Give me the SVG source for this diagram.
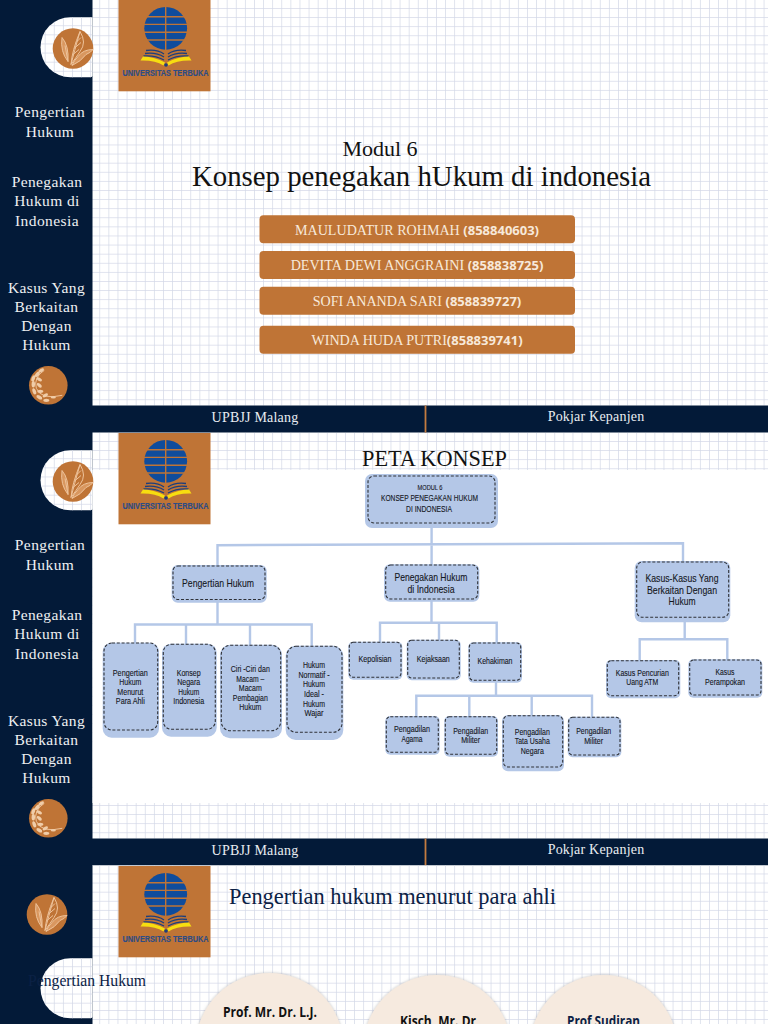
<svg xmlns="http://www.w3.org/2000/svg" width="768" height="1024" viewBox="0 0 768 1024">
<style>
.nv{font-family:"Liberation Serif","Times New Roman",serif;font-size:15.5px;letter-spacing:.4px;fill:#eef0f2;text-anchor:middle}
.ft{font-family:"Liberation Serif","Times New Roman",serif;font-size:14px;letter-spacing:.2px;fill:#e9edf2;text-anchor:middle}
.pl{font-family:"Liberation Serif","Times New Roman",serif;font-size:14.1px;fill:#f7e9da;text-anchor:middle}
.pn{font-family:"Open Sans","Liberation Sans",sans-serif;font-size:13px;font-weight:700}
.ut{font-family:"Liberation Sans",Arial,sans-serif;font-size:8.6px;font-weight:700;fill:#2c4c86;stroke:#2c4c86;stroke-width:.15}
.o{fill:#b4c7e7}
.d{fill:none;stroke:#2f3238;stroke-width:1.1;stroke-dasharray:3 1.8}
.t{font-family:"Liberation Sans",Arial,sans-serif;fill:#15181e;text-anchor:middle;stroke:#15181e;stroke-width:.12}
.s7{font-size:7.6px}.s8{font-size:8.6px}.s10{font-size:11px}
.c{fill:none;stroke:#b4c7e7;stroke-width:2.4}
.hd{font-family:"Open Sans","Liberation Sans",sans-serif;font-size:13.5px;font-weight:700;text-anchor:middle}
</style>
<defs>
<pattern id="grid" patternUnits="userSpaceOnUse" width="9.1" height="9.1" x="99.3" y="8">
<path d="M0 0V9.1M0 0H9.1" fill="none" stroke="#d3d8e7" stroke-width="1.4"/>
</pattern>
<filter id="sh" x="-10%" y="-10%" width="120%" height="120%"><feDropShadow dx="0" dy="0" stdDeviation="1.6" flood-color="#8a8a8a" flood-opacity=".55"/></filter>
<g id="frame">
<rect x="92" y="0" width="676" height="405.500" fill="#fff"/>
<rect x="92" y="0" width="676" height="405.500" fill="url(#grid)"/>
<rect x="0" y="0" width="92.500" height="433" fill="#031a38"/>
<rect x="92" y="405.500" width="676" height="27" fill="#031a38"/>
<rect x="424.600" y="405.500" width="1.800" height="27" fill="#c27b40"/>
</g>
<g id="logo">
<rect x="118.500" y="0" width="92" height="91.300" fill="#bf7436"/>
<circle cx="165.700" cy="28.300" r="21.400" fill="#0f4c9c"/>
<path d="M143 16.700H188M143 24.400H188M143 32.300H188M143 40H188M165.700 6V50" stroke="#bf7436" stroke-width="1.400" fill="none"/>
<path d="M146 50.500Q157 49 164 54M145 53.500Q156 52 164 57M143.500 56Q155 55 164 60M186 50.500Q175 49 168 54M187 53.500Q176 52 168 57M188.500 56Q177 55 168 60" stroke="#1c3f7d" stroke-width="1.300" fill="none"/>
<path d="M143 56.500L140.500 60.500Q155 60 163.500 65.500L165 62.500Q155 57 143 56.500Z" fill="#f7dd10"/>
<path d="M189 56.500L191.500 60.500Q177 60 168.500 65.500L167 62.500Q177 57 189 56.500Z" fill="#f7dd10"/>
<circle cx="166" cy="65" r="1.800" fill="#1c3f7d"/>
</g>
<g id="tab"><path d="M92.500 0H70.500A30 30 0 0 0 70.500 60H90.500Q92.500 60 92.500 58Z" fill="#fff"/><path d="M92.500 0H70.500A30 30 0 0 0 70.500 60H90.500Q92.500 60 92.500 58Z" fill="url(#grid)"/></g>
<g id="leaf">
<circle cx="0" cy="0" r="20.300" fill="#bf7436"/>
<g fill="none" stroke="#eec39b" stroke-width="1">
<path d="M-2 16Q-1 2 7 -17Q14 -6 7 3Q3 9 -2 16ZM-2 16Q1 4 7 -17M0 6L6 1M1 0L8 -6M3 -6L8 -11"/>
<path d="M-5 13Q-13 3 -11 -11Q-4 -3 -5 13M-8 -3L-5 13" fill="#d9975f"/>
<path d="M-1 17Q8 13 13 6Q18 4 20 1Q10 1 5 8Q1 12 -1 17" fill="#d9975f"/>
</g></g>
<g id="wreath">
<circle cx="0" cy="0" r="19.300" fill="#bf7436"/>
<path d="M-4 -15Q-15 -8 -12 3Q-7 15 14 10" fill="none" stroke="#eec39b" stroke-width="1"/>
<g fill="#f0cda9"><ellipse cx="-7" cy="-15" rx="3" ry="1.600" transform="rotate(-30 -7 -15)"/><ellipse cx="-11" cy="-11" rx="3.200" ry="1.700" transform="rotate(-50 -11 -11)"/><ellipse cx="-15" cy="-7" rx="3.200" ry="1.700" transform="rotate(-70 -15 -7)"/><ellipse cx="-9" cy="-6" rx="3" ry="1.600" transform="rotate(30 -9 -6)"/><ellipse cx="-15" cy="-1" rx="3.200" ry="1.700" transform="rotate(-90 -15 -1)"/><ellipse cx="-9" cy="0" rx="3" ry="1.600" transform="rotate(40 -9 0)"/><ellipse cx="-14" cy="6" rx="3.200" ry="1.700" transform="rotate(70 -14 6)"/><ellipse cx="-8" cy="6" rx="3" ry="1.600"/><ellipse cx="-9" cy="12" rx="3.200" ry="1.700" transform="rotate(30 -9 12)"/><ellipse cx="-3" cy="10" rx="3" ry="1.600" transform="rotate(-30 -3 10)"/><ellipse cx="-2" cy="15" rx="3" ry="1.600"/><ellipse cx="5" cy="12" rx="2.600" ry="1.300"/></g>
</g>
</defs>

<rect id="page" width="768" height="1024" fill="#fff"/>

<g id="slide1">
<use href="#frame"/>
<use href="#tab" y="17.300"/>
<use href="#logo"/>
<use href="#leaf" x="73" y="48.500"/>
<use href="#wreath" x="48.300" y="385.300"/>
<text class="ut" x="122.500" y="76" textLength="86" lengthAdjust="spacingAndGlyphs">UNIVERSITAS TERBUKA</text>
<g id="nav1">
<text class="nv" x="50" y="117">Pengertian</text><text class="nv" x="50" y="136.500">Hukum</text>
<text class="nv" x="47" y="187">Penegakan</text><text class="nv" x="47" y="206">Hukum di</text><text class="nv" x="47" y="225.700">Indonesia</text>
<text class="nv" x="46.500" y="292.700">Kasus Yang</text><text class="nv" x="46.500" y="311.700">Berkaitan</text><text class="nv" x="46.500" y="331">Dengan</text><text class="nv" x="46.500" y="350">Hukum</text>
</g>
<text x="380" y="156" font-family="Liberation Serif, serif" font-size="22" text-anchor="middle" fill="#111">Modul 6</text>
<text x="421.500" y="185.500" font-family="Liberation Serif, serif" font-size="28.800" text-anchor="middle" fill="#111">Konsep penegakan hUkum di indonesia</text>
<g id="pill1"><rect x="259.500" y="215.300" width="315.500" height="28" rx="4" fill="#bf7436"/><text class="pl" x="417" y="235">MAULUDATUR ROHMAH <tspan class="pn">(858840603)</tspan></text></g>
<g id="pill2"><rect x="259.500" y="251" width="315.500" height="28" rx="4" fill="#bf7436"/><text class="pl" x="417" y="270.300">DEVITA DEWI ANGGRAINI <tspan class="pn">(858838725)</tspan></text></g>
<g id="pill3"><rect x="259.500" y="286.700" width="315.500" height="28" rx="4" fill="#bf7436"/><text class="pl" x="417" y="305.700">SOFI ANANDA SARI <tspan class="pn">(858839727)</tspan></text></g>
<g id="pill4"><rect x="259.500" y="325.700" width="315.500" height="28" rx="4" fill="#bf7436"/><text class="pl" x="417" y="345">WINDA HUDA PUTRI<tspan class="pn">(858839741)</tspan></text></g>
<text class="ft" x="255" y="422">UPBJJ Malang</text><text class="ft" x="596" y="420.500">Pokjar Kepanjen</text>
</g>

<g id="slide2">
<use href="#frame" y="433"/>
<use href="#tab" y="450.300"/>
<rect x="92.500" y="470" width="675.500" height="333" fill="#fff"/>
<use href="#logo" y="433"/>
<use href="#leaf" x="73" y="481.500"/>
<use href="#wreath" x="48.300" y="818.300"/>
<text class="ut" x="122.500" y="509" textLength="86" lengthAdjust="spacingAndGlyphs">UNIVERSITAS TERBUKA</text>
<g id="nav2">
<text class="nv" x="50" y="550">Pengertian</text><text class="nv" x="50" y="569.500">Hukum</text>
<text class="nv" x="47" y="620">Penegakan</text><text class="nv" x="47" y="639">Hukum di</text><text class="nv" x="47" y="658.700">Indonesia</text>
<text class="nv" x="46.500" y="725.700">Kasus Yang</text><text class="nv" x="46.500" y="744.700">Berkaitan</text><text class="nv" x="46.500" y="764">Dengan</text><text class="nv" x="46.500" y="783">Hukum</text>
</g>
<text x="434.500" y="466" font-family="Liberation Serif, serif" font-size="22.300" text-anchor="middle" fill="#111">PETA KONSEP</text>
<text class="ft" x="255" y="855">UPBJJ Malang</text><text class="ft" x="596" y="853.500">Pokjar Kepanjen</text>

<g id="connectors">
<path class="c" d="M431.600 527V565M217.500 566V545.200L683 543.300V562"/>
<path class="c" d="M217.500 602V624.500M135 643V624.500H311.700V646M186 624.500V644.500M250 624.500V645.500"/>
<path class="c" d="M431.500 601V622.700M380 642V622.700H496.700V643M439 622.700V640.500"/>
<path class="c" d="M496 682V695.700M416.300 717V695.700H592V718M469.300 695.700V717M531.700 695.700V716"/>
<path class="c" d="M684.700 622V639.300M639.700 661V639.300H727.300V660"/>
</g>

<g id="n-root"><rect class="o" x="365" y="474" width="133" height="54" rx="7"/><rect class="d" x="368" y="476" width="127" height="47" rx="6"/><text class="t s7" x="430" y="489.700" textLength="25" lengthAdjust="spacingAndGlyphs">MODUL 6</text><text class="t s8" x="429.500" y="501" textLength="97" lengthAdjust="spacingAndGlyphs">KONSEP PENEGAKAN HUKUM</text><text class="t s8" x="429" y="511.500" textLength="46" lengthAdjust="spacingAndGlyphs">DI INDONESIA</text></g>
<g id="n-pengertian"><rect class="o" x="171.700" y="565" width="95" height="37.700" rx="6"/><rect class="d" x="173" y="566" width="92" height="33.500" rx="5"/><text class="t s10" x="218" y="587" textLength="72" lengthAdjust="spacingAndGlyphs">Pengertian Hukum</text></g>
<g id="n-penegakan"><rect class="o" x="384" y="564.300" width="95.300" height="37.400" rx="6"/><rect class="d" x="385.700" y="565" width="92" height="34" rx="5"/><text class="t s10" x="431" y="580.800" textLength="73" lengthAdjust="spacingAndGlyphs">Penegakan Hukum</text><text class="t s10" x="431" y="593" textLength="47" lengthAdjust="spacingAndGlyphs">di Indonesia</text></g>
<g id="n-kasus"><rect class="o" x="634.700" y="561" width="95.600" height="61.300" rx="7"/><rect class="d" x="636.700" y="562" width="92" height="55.300" rx="6"/><text class="t s10" x="682" y="581.500" textLength="73" lengthAdjust="spacingAndGlyphs">Kasus-Kasus Yang</text><text class="t s10" x="682" y="593.800" textLength="70" lengthAdjust="spacingAndGlyphs">Berkaitan Dengan</text><text class="t s10" x="682" y="605" textLength="27" lengthAdjust="spacingAndGlyphs">Hukum</text></g>

<g id="n-c1"><rect class="o" x="102.700" y="642.700" width="56.300" height="95" rx="9"/><rect class="d" x="104" y="643" width="53.700" height="87" rx="8"/><text class="t s8" x="130.300" y="675.800" textLength="35" lengthAdjust="spacingAndGlyphs">Pengertian</text><text class="t s8" x="130.300" y="685.300" textLength="22" lengthAdjust="spacingAndGlyphs">Hukum</text><text class="t s8" x="130.300" y="694.800" textLength="26" lengthAdjust="spacingAndGlyphs">Menurut</text><text class="t s8" x="130.300" y="704.300" textLength="29" lengthAdjust="spacingAndGlyphs">Para Ahli</text></g>
<g id="n-c2"><rect class="o" x="162" y="643.700" width="54.700" height="93" rx="9"/><rect class="d" x="163.300" y="644.300" width="52" height="85" rx="8"/><text class="t s8" x="188.700" y="675.800" textLength="24" lengthAdjust="spacingAndGlyphs">Konsep</text><text class="t s8" x="188.700" y="685.300" textLength="23" lengthAdjust="spacingAndGlyphs">Negara</text><text class="t s8" x="188.700" y="694.800" textLength="21" lengthAdjust="spacingAndGlyphs">Hukum</text><text class="t s8" x="188.700" y="704.300" textLength="31" lengthAdjust="spacingAndGlyphs">Indonesia</text></g>
<g id="n-c3"><rect class="o" x="220" y="644.700" width="62" height="93.600" rx="10"/><rect class="d" x="221.300" y="645.300" width="59.400" height="85.400" rx="9"/><text class="t s8" x="250.300" y="672.300" textLength="39" lengthAdjust="spacingAndGlyphs">Ciri -Ciri dan</text><text class="t s8" x="250.300" y="681.800" textLength="28" lengthAdjust="spacingAndGlyphs">Macam –</text><text class="t s8" x="250.300" y="691.300" textLength="23" lengthAdjust="spacingAndGlyphs">Macam</text><text class="t s8" x="250.300" y="700.800" textLength="35" lengthAdjust="spacingAndGlyphs">Pembagian</text><text class="t s8" x="250.300" y="710.300" textLength="22" lengthAdjust="spacingAndGlyphs">Hukum</text></g>
<g id="n-c4"><rect class="o" x="285.700" y="645.700" width="57.600" height="94.300" rx="10"/><rect class="d" x="287" y="646.300" width="55" height="86" rx="9"/><text class="t s8" x="314" y="668" textLength="22" lengthAdjust="spacingAndGlyphs">Hukum</text><text class="t s8" x="314" y="677.700" textLength="31" lengthAdjust="spacingAndGlyphs">Normatif -</text><text class="t s8" x="314" y="687.400" textLength="22" lengthAdjust="spacingAndGlyphs">Hukum</text><text class="t s8" x="314" y="697" textLength="20" lengthAdjust="spacingAndGlyphs">Ideal -</text><text class="t s8" x="314" y="706.700" textLength="22" lengthAdjust="spacingAndGlyphs">Hukum</text><text class="t s8" x="314" y="716.300" textLength="19" lengthAdjust="spacingAndGlyphs">Wajar</text></g>

<g id="n-kepolisian"><rect class="o" x="348.300" y="641.700" width="54" height="38" rx="5"/><rect class="d" x="349.300" y="642.300" width="51.700" height="35" rx="4"/><text class="t s8" x="375" y="662.300" textLength="33" lengthAdjust="spacingAndGlyphs">Kepolisian</text></g>
<g id="n-kejaksaan"><rect class="o" x="406.700" y="639.700" width="54" height="40.600" rx="5"/><rect class="d" x="407.700" y="640.300" width="51.600" height="37.700" rx="4"/><text class="t s8" x="433.300" y="661.700" textLength="33" lengthAdjust="spacingAndGlyphs">Kejaksaan</text></g>
<g id="n-kehakiman"><rect class="o" x="468.300" y="642.300" width="53.700" height="40.400" rx="5"/><rect class="d" x="469.300" y="643" width="51.400" height="37.300" rx="4"/><text class="t s8" x="495" y="664.300" textLength="35" lengthAdjust="spacingAndGlyphs">Kehakiman</text></g>

<g id="n-agama"><rect class="o" x="385.300" y="716" width="54.400" height="38.700" rx="5"/><rect class="d" x="386.300" y="716.700" width="52" height="35.600" rx="4"/><text class="t s8" x="412" y="732.300" textLength="36" lengthAdjust="spacingAndGlyphs">Pengadilan</text><text class="t s8" x="412" y="742.300" textLength="21" lengthAdjust="spacingAndGlyphs">Agama</text></g>
<g id="n-militer1"><rect class="o" x="444.300" y="716" width="53.700" height="40.700" rx="5"/><rect class="d" x="445.300" y="716.700" width="51.400" height="37.600" rx="4"/><text class="t s8" x="470.700" y="733.700" textLength="35" lengthAdjust="spacingAndGlyphs">Pengadilan</text><text class="t s8" x="470.700" y="743" textLength="19" lengthAdjust="spacingAndGlyphs">Militer</text></g>
<g id="n-tun"><rect class="o" x="502" y="715" width="62" height="56.300" rx="6"/><rect class="d" x="503.300" y="715.700" width="59.400" height="51.300" rx="5"/><text class="t s8" x="532.300" y="734.700" textLength="35" lengthAdjust="spacingAndGlyphs">Pengadilan</text><text class="t s8" x="532.300" y="744.300" textLength="35" lengthAdjust="spacingAndGlyphs">Tata Usaha</text><text class="t s8" x="532.300" y="754" textLength="23" lengthAdjust="spacingAndGlyphs">Negara</text></g>
<g id="n-militer2"><rect class="o" x="567.700" y="716.700" width="53.600" height="40.600" rx="5"/><rect class="d" x="568.700" y="717.300" width="51.300" height="37.700" rx="4"/><text class="t s8" x="593.700" y="734.300" textLength="35" lengthAdjust="spacingAndGlyphs">Pengadilan</text><text class="t s8" x="593.700" y="743.700" textLength="19" lengthAdjust="spacingAndGlyphs">Militer</text></g>

<g id="n-pencurian"><rect class="o" x="606" y="660" width="74.300" height="38.300" rx="5"/><rect class="d" x="607.300" y="660.700" width="71.400" height="35" rx="4"/><text class="t s8" x="642.300" y="676" textLength="53" lengthAdjust="spacingAndGlyphs">Kasus Pencurian</text><text class="t s8" x="642.300" y="685.300" textLength="32" lengthAdjust="spacingAndGlyphs">Uang ATM</text></g>
<g id="n-perampokan"><rect class="o" x="688.300" y="659.300" width="74" height="38.400" rx="5"/><rect class="d" x="689.700" y="660" width="71.300" height="35" rx="4"/><text class="t s8" x="725" y="675.300" textLength="19" lengthAdjust="spacingAndGlyphs">Kasus</text><text class="t s8" x="725" y="685" textLength="40" lengthAdjust="spacingAndGlyphs">Perampokan</text></g>
</g>

<g id="slide3">
<use href="#frame" y="865.500"/>
<use href="#logo" y="866"/>
<use href="#leaf" x="47" y="914.500"/>
<text class="ut" x="122.500" y="942" textLength="86" lengthAdjust="spacingAndGlyphs">UNIVERSITAS TERBUKA</text>
<text x="229" y="904" font-family="Liberation Serif, serif" font-size="22.400" fill="#0b2145">Pengertian hukum menurut para ahli</text>
<use href="#tab" y="958.300"/>
<text x="28" y="986" font-family="Liberation Serif, serif" font-size="15.700" fill="#0b2145">Pengertian Hukum</text>
<g id="e1"><ellipse cx="269.500" cy="1047" rx="74" ry="74" fill="#f6eadf" filter="url(#sh)"/><text class="hd" x="270" y="1016.500" fill="#111" textLength="94" lengthAdjust="spacingAndGlyphs">Prof. Mr. Dr. L.J.</text><text class="hd" x="270" y="1035" fill="#111" textLength="76" lengthAdjust="spacingAndGlyphs">van Apeldoorn</text></g>
<g id="e2"><ellipse cx="437" cy="1049" rx="74" ry="74" fill="#f6eadf" filter="url(#sh)"/><text class="hd" x="438" y="1025.500" fill="#111" textLength="76" lengthAdjust="spacingAndGlyphs">Kisch, Mr. Dr</text></g>
<g id="e3"><ellipse cx="603.500" cy="1049" rx="74" ry="74" fill="#f6eadf" filter="url(#sh)"/><text class="hd" x="603.500" y="1026" fill="#0b2145" textLength="73" lengthAdjust="spacingAndGlyphs">Prof Sudiran</text></g>
</g>
</svg>
